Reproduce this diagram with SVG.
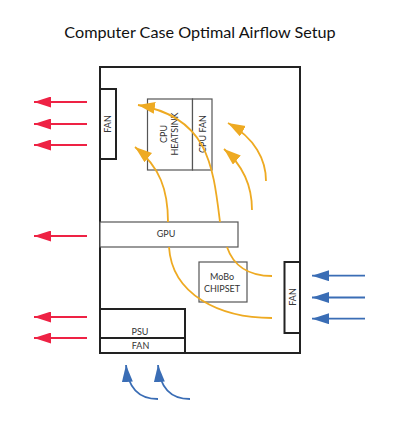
<svg xmlns="http://www.w3.org/2000/svg" width="400" height="427" viewBox="0 0 400 427">
<style>
.b{fill:#fff;stroke:#222;stroke-width:2}
.g{fill:#fff;stroke:#555;stroke-width:1.200}
text{font-family:Lato,"Open Sans",sans-serif;fill:#333;font-size:9px;text-anchor:middle}
.o{fill:none;stroke:#eeaa22;stroke-width:1.800}
.r{fill:none;stroke:#ee2244;stroke-width:1.800;marker-end:url(#mr)}
.bl{fill:none;stroke:#3a6db5;stroke-width:1.800;marker-end:url(#mb)}
</style>
<defs>
<marker id="mr" markerUnits="userSpaceOnUse" markerWidth="18" markerHeight="11" refX="17" refY="5.500" orient="auto"><path d="M0 0L17 5.500L0 11z" fill="#ee2244"/></marker>
<marker id="mb" markerUnits="userSpaceOnUse" markerWidth="18" markerHeight="11" refX="17" refY="5.500" orient="auto"><path d="M0 0L17 5.500L0 11z" fill="#3a6db5"/></marker>
<marker id="mo" markerUnits="userSpaceOnUse" markerWidth="18" markerHeight="13" refX="17" refY="6" orient="auto"><path d="M0 0L17 6L0 12z" fill="#eeaa22"/></marker>
</defs>
<text x="200" y="38" style="font-size:16.200px;fill:#111">Computer Case Optimal Airflow Setup</text>
<g id="case"><rect class="b" x="100" y="67" width="200" height="286"/></g>
<g id="fan-top"><rect class="b" x="100" y="89" width="16" height="70"/><text transform="translate(111,124) rotate(-90)">FAN</text></g>
<g id="cpu-heatsink"><rect class="g" x="147.500" y="99" width="45" height="71"/><text transform="translate(167,134) rotate(-90)">CPU</text><text transform="translate(178,134) rotate(-90)">HEATSINK</text></g>
<g id="cpu-fan"><rect class="g" x="192.500" y="99" width="19.500" height="71"/><text transform="translate(205.500,134) rotate(-90)">CPU FAN</text></g>
<g id="gpu"><rect class="g" x="100" y="222" width="138" height="25"/><text x="166" y="237">GPU</text></g>
<g id="chipset"><rect class="g" x="199" y="262" width="48" height="40"/><text x="222" y="280">MoBo</text><text x="222" y="292">CHIPSET</text></g>
<g id="fan-right"><rect class="b" x="284.500" y="262" width="15.500" height="71"/><text transform="translate(296,297) rotate(-90)">FAN</text></g>
<g id="psu"><rect class="b" x="100" y="309" width="85" height="29"/><text x="140" y="335">PSU</text></g>
<g id="fan-bottom"><rect class="b" x="100" y="338" width="85" height="15"/><text x="140.500" y="349">FAN</text></g>
<g id="connectors">
<path class="o" d="M168 222C168 190 160 167 135 147" marker-end="url(#mo)"/>
<path class="o" d="M220 222C213 165 208 117 138 105" marker-end="url(#mo)"/>
<path class="o" d="M266 181C266 160 255 138 228 123" marker-end="url(#mo)"/>
<path class="o" d="M252 210C252 190 246 168 224 149" marker-end="url(#mo)"/>
<path class="o" d="M227 247C233 265 248 276 272 276"/>
<path class="o" d="M169 247C172 295 220 318 272 318"/>
<path class="bl" d="M158 399C140 399 128 390 126 365"/>
<path class="bl" d="M190 399C172 399 160 390 158 365"/>
<path class="bl" d="M365 275.700H312"/><path class="bl" d="M365 297.500H312"/><path class="bl" d="M365 318.700H312"/>
<path class="r" d="M87 102H34"/><path class="r" d="M87 124H34"/><path class="r" d="M87 145H34"/><path class="r" d="M87 236H34"/><path class="r" d="M87 317H34"/><path class="r" d="M87 338H34"/>
</g>
</svg>
